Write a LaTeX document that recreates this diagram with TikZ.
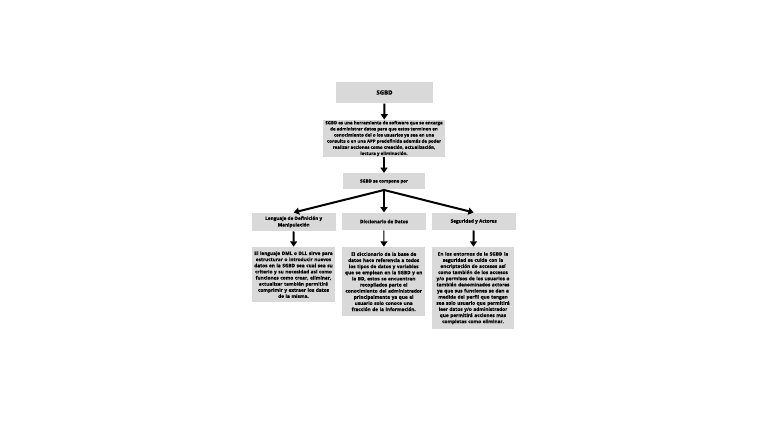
\documentclass[tikz,border=0pt]{standalone}
\usepackage{fontspec}
\setmainfont{Open Sans}[BoldFeatures={FakeBold=0.4}]
\usetikzlibrary{arrows.meta}
\definecolor{boxgray}{RGB}{217,217,217}

\tikzset{every picture/.style={line width=0.75pt}}

\begin{document}
\begin{tikzpicture}[x=0.75pt,y=0.75pt,yscale=-1,xscale=1,
  box/.style={fill=boxgray,inner sep=0pt,align=center,font=\bfseries\fontsize{3.3}{4.6}\selectfont},
  hdr/.style={box,minimum width=63pt,minimum height=13.5pt,font=\bfseries\fontsize{3.5}{4.9}\selectfont},
  txt/.style={box,anchor=north,text width=62pt,font=\bfseries\fontsize{3.55}{4.6}\selectfont},
  arr/.style={draw=black,line width=1.5pt,-{Triangle[width=5.2pt,length=4pt]}},
  thinarr/.style={arr,line width=0.8pt}]
\path[use as bounding box] (0,0) rectangle (768,431);

% Title
\node [box,minimum width=72.75pt,minimum height=16.1pt,font=\bfseries\fontsize{4.5}{5}\selectfont] (sgbd) at (384.5,92.5) {SGBD};
% Text Node
\node [box,minimum width=91.5pt,minimum height=27.75pt] (desc) at (384,138.5) {SGBD es una herramienta de software que se encarga\\de administrar datos para que estos terminen en\\conocimiento del o los usuarios ya sea en una\\consulta o en una APP predefinida además de poder\\realizar acciones como creación, actualización,\\lectura y eliminación.};
% Text Node
\node [box,minimum width=61.5pt,minimum height=12pt,font=\bfseries\fontsize{3.3}{4.6}\selectfont] (comp) at (384,181.5) {SGBD se compone por};

% Headings
\node [hdr] (lang) at (293.7,222) {Lenguaje de Definición y\\Manipulación};
\node [hdr,minimum height=12.75pt] (dicc) at (384,221.5) {Diccionario de Datos};
\node [hdr,minimum height=12.75pt] (segu) at (473.7,221.5) {Seguridad y Actores};

% Text Node
\node [txt,minimum height=41.25pt] (langtxt) at (293.5,246.7) {El lenguaje DML o DLL sirve para\\estructurar o introducir nuevos\\datos en la SGBD sea cual sea su\\criterio y su necesidad así como\\funciones como crear, eliminar,\\actualizar también permitirá\\comprimir y extraer los datos\\de la misma.};
% Text Node
\node [txt,minimum height=51.75pt] (dicctxt) at (383.7,246.7) {El diccionario de la base de\\datos hace referencia a todos\\los tipos de datos y variables\\que se emplean en la SGBD y en\\la BD, estos se encuentran\\recopilados parte el\\conocimiento del administrador\\principalmente ya que el\\usuario solo conoce una\\fracción de la información.};
% Text Node
\node [txt,minimum height=61.5pt] (segutxt) at (473,246.7) {En los entornos de la SGBD la\\seguridad se cuida con la\\encriptación de accesos así\\como también de los accesos\\y/o permisos de los usuarios o\\también denominados actores\\ya que sus funciones se dan a\\medida del perfil que tengan\\sea solo usuario que permitirá\\leer datos y/o administrador\\que permitirá acciones mas\\completas como eliminar.};

%Straight Lines
\draw [arr] (sgbd) -- (desc);
\draw [arr] (desc) -- (comp);
\draw [arr] (comp.south) -- (lang.north);
\draw [arr] (comp.south) -- (dicc.north);
\draw [arr] (comp.south) -- (segu.north);
\draw [arr] (lang) -- (langtxt);
\draw [thinarr] (dicc) -- (dicctxt);
\draw [arr] (segu) -- (segutxt);

\end{tikzpicture}
\end{document}
